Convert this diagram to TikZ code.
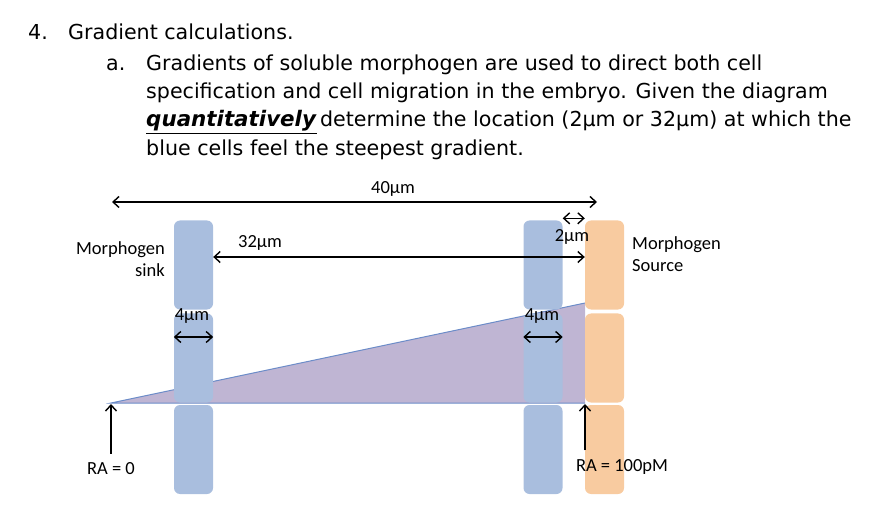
\documentclass[tikz,border=0pt]{standalone}
\usepackage{fontspec}
\setmainfont{DejaVu Sans}
\newfontfamily\labelfont{Carlito}
\usetikzlibrary{arrows.meta}

\definecolor{cellblue}{RGB}{169,190,222}
\definecolor{cellorange}{RGB}{248,203,160}
\definecolor{ramp}{RGB}{191,181,211}
\definecolor{rampline}{RGB}{108,140,200}

\begin{document}
\begin{tikzpicture}[x=1bp,y=-1bp,
    >={Straight Barb[length=6bp,width=11bp]},
    head/.style={anchor=base west,inner sep=0pt,font=\fontsize{20.6bp}{25bp}\selectfont},
    lbl/.style={inner sep=0pt,font=\labelfont\fontsize{18.5bp}{22bp}\selectfont},
    cell/.style={rounded corners=6bp,minimum width=39bp,minimum height=89bp,inner sep=0pt},
    bluecell/.style={cell,fill=cellblue},
    srccell/.style={cell,fill=cellorange},
    dim/.style={line width=1.4bp,<->},
    ptr/.style={line width=1.4bp,->}]
    \useasboundingbox (0,0) rectangle (882,506);

    % question text
    \node[head] (num) at (28,39.5) {4.};
    \node[head] (title) at (68,39.5) {Gradient calculations.};
    \node[head] (item) at (106,70.5) {a.};
    \node[head] (lineA) at (146,70.5) {Gradients of soluble morphogen are used to direct both cell};
    \node[head] (lineB) at (146,99) {specification and cell migration in the embryo. Given the diagram};
    \node[head] (lineC) at (146,127) {\underline{\textbf{\textit{\fontsize{21.4bp}{25bp}\selectfont quantitatively}}}\,determine the location (2μm or 32μm) at which the};
    \node[head] (lineD) at (146,155.5) {blue cells feel the steepest gradient.};

    % morphogen ramp
    \coordinate (zero) at (111,403);
    \coordinate (full) at (585,403);
    \coordinate (peak) at (585,303);
    \fill[ramp] (zero) -- (peak) -- (full) -- cycle;
    \draw[rampline,line width=1bp] (peak) -- (zero) -- (full);

    % cells
    \node[bluecell] (sinkTop) at (193.5,265) {};
    \node[bluecell] (sinkMid) at (193.5,358) {};
    \node[bluecell] (sinkLow) at (193.5,449.5) {};
    \node[bluecell] (nearTop) at (543,265) {};
    \node[bluecell] (nearMid) at (543,358) {};
    \node[bluecell] (nearLow) at (543,449.5) {};
    \node[srccell] (srcTop) at (604.5,265) {};
    \node[srccell] (srcMid) at (604.5,358) {};
    \node[srccell] (srcLow) at (604.5,449.5) {};

    % distances
    \coordinate (spanL) at (112,202);
    \coordinate (spanR) at (597,202);
    \draw[dim] (spanL) -- (spanR);
    \node[lbl] (span) at (393,189) {40μm};
    \draw[dim] ([yshift=8bp]sinkTop.east) -- ([yshift=8bp]srcTop.west);
    \node[lbl] (far) at (260,243) {32μm};
    \draw[dim] ([yshift=2bp]nearTop.north east) -- ([yshift=2bp]srcTop.north west);
    \node[lbl] (gap) at (572,237) {2μm};
    \draw[dim] ([yshift=21bp]sinkMid.west) -- ([yshift=21bp]sinkMid.east);
    \node[lbl] (widthL) at (192,316) {4μm};
    \draw[dim] ([yshift=21bp]nearMid.west) -- ([yshift=21bp]nearMid.east);
    \node[lbl] (widthR) at (542,316) {4μm};

    % labels
    \node[lbl,align=right,anchor=east] (sink) at (165,259) {Morphogen\\sink};
    \node[lbl,align=left,anchor=west] (source) at (632,254) {Morphogen\\Source};
    \node[lbl] (raZero) at (111,469) {RA = 0};
    \node[lbl] (raFull) at (622,467) {RA = 100pM};
    \draw[ptr,shorten <=9bp,shorten >=1bp] (raZero.north) -- (zero);
    \draw[ptr,shorten <=9bp,shorten >=1bp] (raFull.north -| full) -- (full);
\end{tikzpicture}
\end{document}
